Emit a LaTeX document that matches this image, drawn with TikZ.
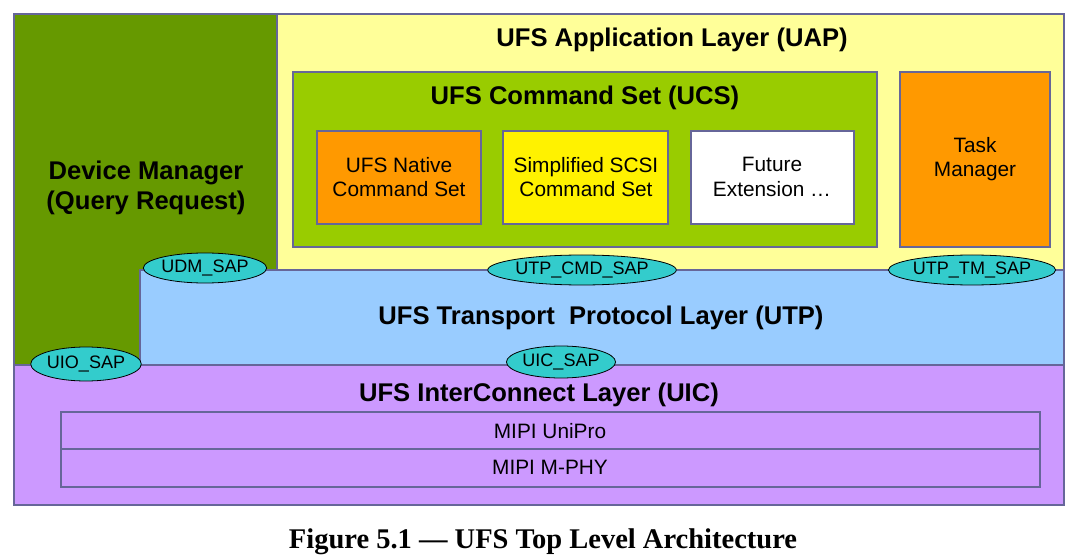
\documentclass[tikz,border=0pt]{standalone}
\usepackage{fontspec}
\usetikzlibrary{shapes.geometric}
\setmainfont{Liberation Sans}
\newfontfamily\capfont{Liberation Serif}
\definecolor{dm}{HTML}{669900}
\definecolor{uap}{HTML}{FFFF99}
\definecolor{utp}{HTML}{99CCFF}
\definecolor{uic}{HTML}{CC99FF}
\definecolor{ucs}{HTML}{99CC00}
\definecolor{org}{HTML}{FF9900}
\definecolor{sap}{HTML}{33CCCC}
\definecolor{bd}{HTML}{666699}
\begin{document}
\begin{tikzpicture}[x=0.0265cm,y=-0.0265cm,
  reg/.style={draw=bd,line width=0.8pt},
  ttl/.style={font=\fontsize{19.3}{23}\selectfont\bfseries},
  txt/.style={font=\fontsize{15.7}{18.5}\selectfont,align=center},
  sapn/.style={ellipse,draw=black,fill=sap,line width=0.6pt,inner sep=0pt,font=\fontsize{13.6}{15}\selectfont}]
\useasboundingbox (0,0) rectangle (1077,556);
\fill[white] (0,0) rectangle (1077,556);
\draw[reg,fill=uap] (277,14) rectangle (1064,270);
\draw[reg,fill=dm] (14,14) -- (277,14) -- (277,270) -- (140,270) -- (140,365) -- (14,365) -- cycle;
\draw[reg,fill=utp] (140,270) rectangle (1064,365);
\draw[reg,fill=uic] (14,365) rectangle (1064,505);
\draw[reg,fill=ucs] (293,72) rectangle (877,247);
\draw[reg,fill=org] (317,131) rectangle (481,224);
\draw[reg,fill=yellow] (503,131) rectangle (668,224);
\draw[reg,fill=white] (691,131) rectangle (854,224);
\draw[reg,fill=org] (900,72) rectangle (1050,247);
\draw[reg] (61,412) rectangle (1040,449);
\draw[reg] (61,449) rectangle (1040,487);
\node[ttl] (tuap) at (672,40) {UFS Application Layer (UAP)};
\node[ttl] (tucs) at (585,98) {UFS Command Set (UCS)};
\node[ttl,align=center] (tdm) at (146,188) {Device Manager\\(Query Request)};
\node[ttl] (tutp) at (601,318) {UFS Transport\ \ Protocol Layer (UTP)};
\node[ttl] (tuic) at (539,395) {UFS InterConnect Layer (UIC)};
\node[txt] (n1) at (399,177) {UFS Native\\Command Set};
\node[txt] (n2) at (586,177) {Simplified SCSI\\Command Set};
\node[txt] (n3) at (772,177) {Future\\Extension \ldots};
\node[txt] (n4) at (975,159) {Task\\Manager};
\node[txt] (m1) at (550,431) {MIPI UniPro};
\node[txt] (m2) at (550,467) {MIPI M-PHY};
\node[sapn,minimum width=110*0.0265cm,minimum height=30*0.0265cm] (s1) at (205,268) {UDM\_SAP};
\node[sapn,minimum width=186*0.0265cm,minimum height=30*0.0265cm] (s2) at (582,270) {UTP\_CMD\_SAP};
\node[sapn,minimum width=145*0.0265cm,minimum height=30*0.0265cm] (s3) at (972,270) {UTP\_TM\_SAP};
\node[sapn,minimum width=106*0.0265cm,minimum height=34*0.0265cm] (s4) at (86,364) {UIO\_SAP};
\node[sapn,minimum width=106*0.0265cm,minimum height=32*0.0265cm] (s5) at (561,362) {UIC\_SAP};
\node[font=\capfont\fontsize{21.5}{24}\selectfont\bfseries] (cap) at (543,542) {Figure 5.1 — UFS Top Level Architecture};
\end{tikzpicture}
\end{document}
